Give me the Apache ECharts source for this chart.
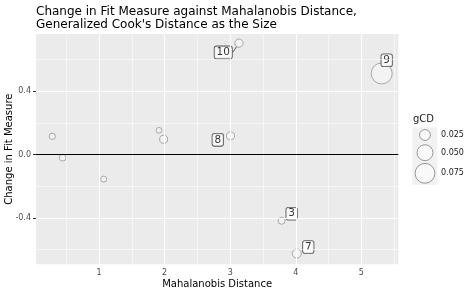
<!DOCTYPE html>
<html>
<head>
<meta charset="utf-8">
<script src="https://cdn.jsdelivr.net/npm/echarts@6/dist/echarts.min.js"></script>
<style>html,body{margin:0;padding:0;background:#fff}#c{width:474px;height:293px}</style>
</head>
<body>
<div id="c"></div>
<script>
// ---- data ----
const mahal  = [0.288, 0.447, 1.072, 1.915, 1.986, 3.005, 3.134, 5.310, 3.785, 4.015];
const change = [0.116, -0.019, -0.154, 0.154, 0.097, 0.119, 0.704, 0.513, -0.417, -0.624];
const gcd    = [0.0109, 0.0118, 0.0102, 0.0095, 0.0153, 0.0160, 0.0160, 0.0838, 0.0125, 0.0184];
const caseLabel = ['', '', '', '', '', '8', '10', '9', '3', '7'];
const xTicks = [1, 2, 3, 4, 5];
const xMinor = [0.5, 1.5, 2.5, 3.5, 4.5, 5.5];
const yTicks = [-0.4, 0, 0.4];
const yMinor = [-0.6, -0.2, 0.2, 0.6];
const sizeBreaks = [0.025, 0.050, 0.075];

// ---- styling ----
const FONT = 'DejaVu Sans';
const labelShift = { '10': [-15.7, 9.2], '8': [-12.7, 4], '9': [5, -13.2], '3': [10, -7], '7': [11.5, -6.5] };
function diam(v) { return Math.sqrt(Math.max(5500 * v - 20, 9)); }

const pts = mahal.map((x, i) => {
  const item = { value: [x, change[i], gcd[i]], name: caseLabel[i] };
  if (caseLabel[i]) {
    item.label = { show: true };
    if (caseLabel[i] === '10') item.labelLine = { show: true, lineStyle: { color: '#333', width: 0.8 } };
  }
  return item;
});

const gridLines = [];
xMinor.forEach(v => gridLines.push({ xAxis: v, lineStyle: { width: 0.55 } }));
yMinor.forEach(v => gridLines.push({ yAxis: v, lineStyle: { width: 0.55 } }));
xTicks.forEach(v => gridLines.push({ xAxis: v, lineStyle: { width: 1.1 } }));
yTicks.forEach(v => gridLines.push({ yAxis: v, lineStyle: { width: 1.1 } }));

const chart = echarts.init(document.getElementById('c'), null, { renderer: 'canvas' });

const legendX = 425, legendY = [135, 152.7, 173.3];
const legendGraphics = [
  { type: 'text', left: 413, top: 114, style: { text: 'gCD', font: '10px "' + FONT + '"', fill: '#1a1a1a' } },
  { type: 'rect', shape: { x: 412.3, y: 127.3, width: 25, height: 57.7 }, style: { fill: '#f2f2f2' } }
];
sizeBreaks.forEach((v, i) => {
  legendGraphics.push({ type: 'circle', shape: { cx: legendX, cy: legendY[i], r: diam(v) / 2 },
    style: { fill: 'rgba(255,255,255,0.5)', stroke: '#7f7f7f', lineWidth: 0.8 } });
  legendGraphics.push({ type: 'text', x: 441, y: legendY[i], style: { text: v.toFixed(3), font: '8px "' + FONT + '"', fill: '#1a1a1a', verticalAlign: 'middle' } });
});

chart.setOption({
  animation: false,
  textStyle: { fontFamily: FONT },
  title: {
    text: "Change in Fit Measure against Mahalanobis Distance,\nGeneralized Cook's Distance as the Size",
    left: 31, top: 0,
    textStyle: { fontFamily: FONT, fontSize: 12, fontWeight: 'normal', color: '#000', lineHeight: 13 }
  },
  grid: { left: 36, right: 474 - 398.3, top: 34, bottom: 293 - 264.3, show: true, backgroundColor: '#ebebeb', borderWidth: 0,
    containLabel: false, outerBoundsMode: 'none' },
  xAxis: {
    type: 'value', min: 0.04, max: 5.563,
    name: 'Mahalanobis Distance', nameLocation: 'middle', nameGap: 15, nameMoveOverlap: false,
    nameTextStyle: { fontFamily: FONT, fontSize: 10, color: '#000' },
    axisLine: { show: false },
    axisTick: { show: true, customValues: xTicks, length: 3, lineStyle: { color: '#333', width: 1 } },
    axisLabel: { customValues: xTicks, margin: 5, fontFamily: FONT, fontSize: 8, color: '#4d4d4d' },
    splitLine: { show: false }
  },
  yAxis: {
    type: 'value', min: -0.692, max: 0.762,
    name: 'Change in Fit Measure', nameLocation: 'middle', nameGap: 22, nameMoveOverlap: false,
    nameTextStyle: { fontFamily: FONT, fontSize: 10, color: '#000' },
    axisLine: { show: false },
    axisTick: { show: true, customValues: yTicks, length: 3, lineStyle: { color: '#333', width: 1 } },
    axisLabel: { customValues: yTicks, margin: 5, fontFamily: FONT, fontSize: 8, color: '#4d4d4d',
      formatter: v => v.toFixed(1) },
    splitLine: { show: false }
  },
  graphic: legendGraphics,
  series: [
    {
      type: 'line', data: [], z: 1, silent: true,
      markLine: { silent: true, symbol: 'none', label: { show: false },
        lineStyle: { color: '#fff', type: 'solid' }, data: gridLines, animation: false }
    },
    {
      type: 'line', data: [], z: 2, silent: true,
      markLine: { silent: true, symbol: 'none', label: { show: false },
        lineStyle: { color: '#000', type: 'solid', width: 1.1 }, data: [{ yAxis: 0 }], animation: false }
    },
    {
      type: 'scatter', z: 3, data: pts,
      symbolSize: v => diam(v[2]),
      itemStyle: { color: 'rgba(255,255,255,0.5)', borderColor: '#7f7f7f', borderWidth: 0.8 },
      label: {
        show: false, position: 'inside', formatter: p => p.name,
        fontFamily: FONT, fontSize: 10.5, color: '#000',
        backgroundColor: '#fff', borderColor: '#333', borderWidth: 0.8, borderRadius: 2, padding: [1, 2, 0, 2]
      },
      labelLayout: p => {
        const s = labelShift[caseLabel[p.dataIndex]];
        return s ? { dx: s[0], dy: s[1] } : {};
      }
    }
  ]
});
</script>
</body>
</html>
